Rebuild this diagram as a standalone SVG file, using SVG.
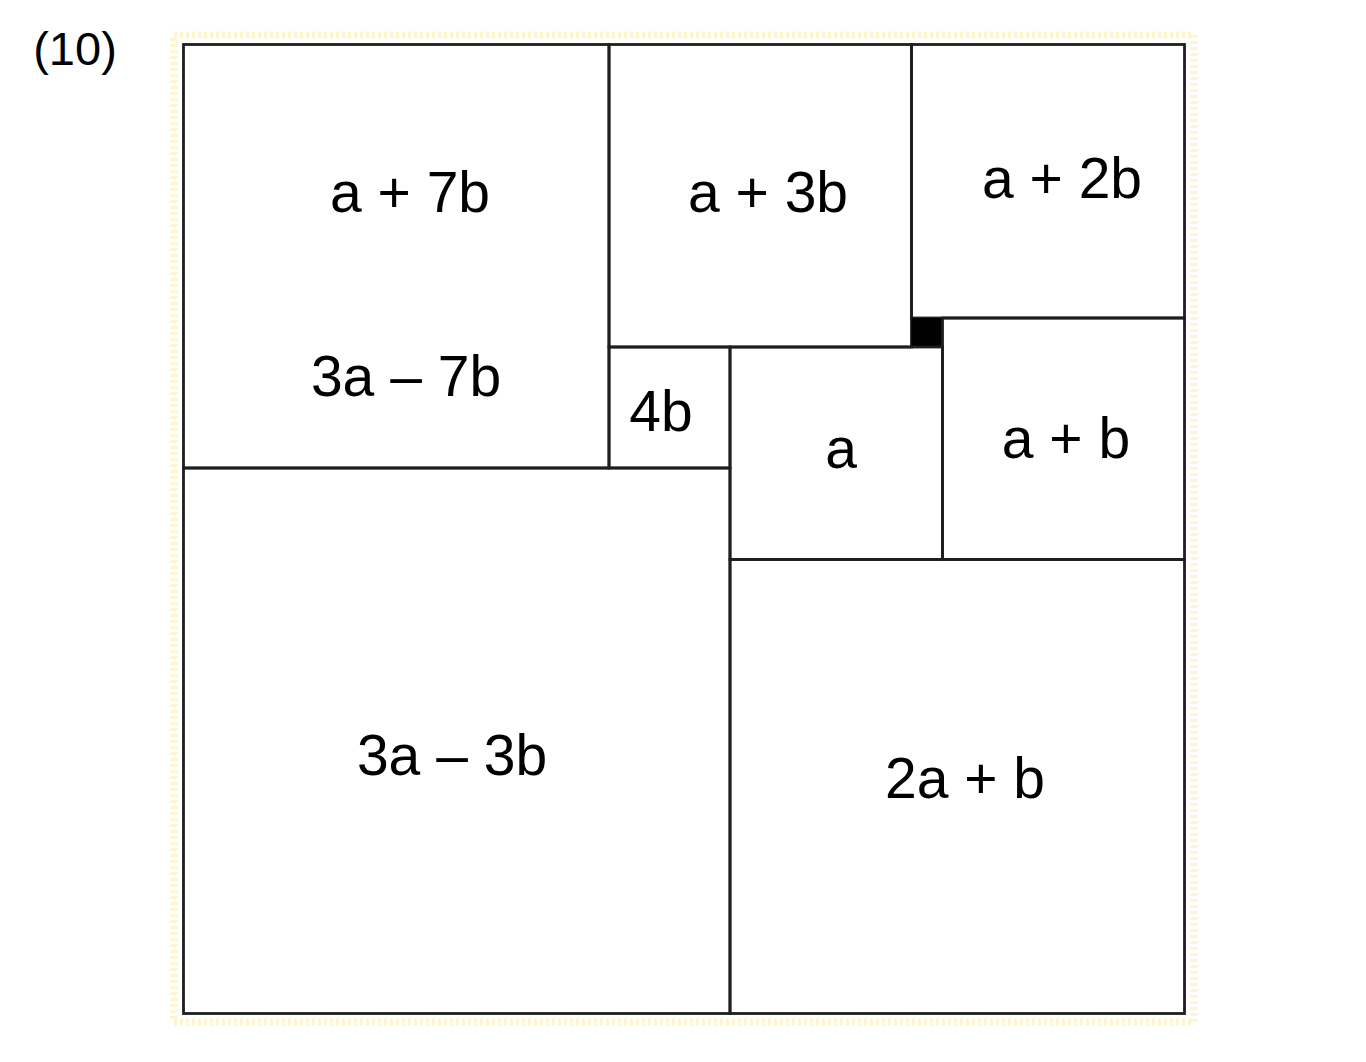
<svg xmlns="http://www.w3.org/2000/svg" width="1366" height="1062" viewBox="0 0 1366 1062">
<style>
.cell{fill:none;stroke:#1e1e1e;stroke-width:2.8}
.lbl{font-family:"Liberation Sans",Arial,sans-serif;font-size:57px;fill:#000;text-anchor:middle}
</style>
<rect width="1366" height="1062" fill="#fff"/>
<rect x="174" y="35" width="1020" height="987" fill="none" stroke="#fff5cc" stroke-width="7" stroke-dasharray="3 3"/>
<text x="75" y="65" style="font-family:'Liberation Sans',Arial,sans-serif;font-size:47px;fill:#000;text-anchor:middle">(10)</text>
<g id="sq-a7b"><rect class="cell" x="183.5" y="44.5" width="425.5" height="423.5"/>
<text class="lbl" x="410" y="212">a + 7b</text><text class="lbl" x="406" y="396">3a – 7b</text></g>
<g id="sq-a3b"><rect class="cell" x="609" y="44.5" width="302.5" height="302.5"/><text class="lbl" x="768" y="212">a + 3b</text></g>
<g id="sq-a2b"><rect class="cell" x="911.5" y="44.5" width="273" height="273.5"/><text class="lbl" x="1062" y="198">a + 2b</text></g>
<g id="sq-black"><rect x="911.5" y="318" width="31" height="29.5" fill="#000"/></g>
<g id="sq-4b"><rect class="cell" x="609" y="347" width="121" height="121"/><text class="lbl" x="661" y="431">4b</text></g>
<g id="sq-a"><rect class="cell" x="730" y="347" width="212.5" height="212.5"/><text class="lbl" x="841" y="468">a</text></g>
<g id="sq-ab"><rect class="cell" x="942.5" y="318" width="242" height="241.5"/><text class="lbl" x="1066" y="458">a + b</text></g>
<g id="sq-3a3b"><rect class="cell" x="183.5" y="468" width="546.5" height="545.5"/><text class="lbl" x="452" y="775">3a – 3b</text></g>
<g id="sq-2ab"><rect class="cell" x="730" y="559.5" width="454.5" height="454"/><text class="lbl" x="965" y="798">2a + b</text></g>
</svg>
